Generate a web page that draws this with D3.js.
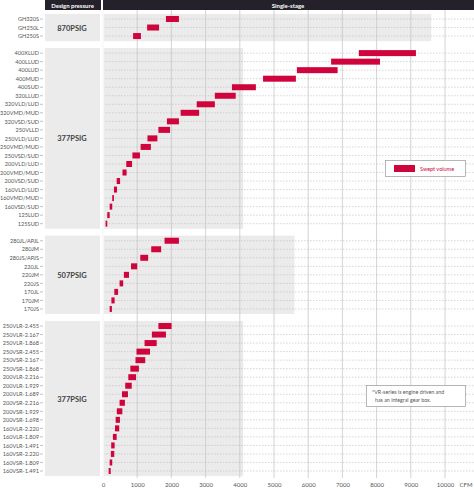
<!DOCTYPE html>
<html><head><meta charset="utf-8">
<script src="https://cdn.jsdelivr.net/npm/d3@7"></script>
<style>
body{margin:0;background:#fff;font-family:Lato,"Open Sans",sans-serif;}
</style></head><body>
<svg id="c" width="474" height="489"></svg>
<script>
// Groups: label, shaded extent (CFM)
const groups = [
  { name: '870PSIG', shade: 9600 },
  { name: '377PSIG', shade: 4100 },
  { name: '507PSIG', shade: 5600 },
  { name: '377PSIG', shade: 4100 },
];

const models = [
  ['GH320S','GH250L','GH250S'],
  ['400XLUD','400LLUD','400LUD','400MUD','400SUD','320LLUD','320VLD/LUD','320VMD/MUD','320VSD/SUD','250VLLD','250VLD/LUD','250VMD/MUD','250VSD/SUD','200VLD/LUD','200VMD/MUD','200VSD/SUD','160VLD/LUD','160VMD/MUD','160VSD/SUD','125LUD','125SUD'],
  ['280JL/APJL','280JM','280JS/APJS','220JL','220JM','220JS','170JL','170JM','170JS'],
  ['250VLR-2.455','250VLR-2.167','250VLR-1.868','250VSR-2.455','250VSR-2.167','250VSR-1.868','200VLR-2.216','200VLR-1.929','200VLR-1.689','200VSR-2.216','200VSR-1.929','200VSR-1.698','160VLR-2.220','160VLR-1.809','160VLR-1.491','160VSR-2.220','160VSR-1.809','160VSR-1.491'],
];

// swept volume range [min, max] CFM
const swept = [
  [[1840,2220],[1290,1640],[880,1110]],
  [[7480,9150],[6670,8100],[5670,6860],[4680,5640],[3770,4470],[3270,3880],[2740,3270],[2270,2810],[1870,2220],[1620,1960],[1300,1590],[1100,1400],[860,1080],[680,850],[570,690],[400,500],[320,410],[270,320],[195,270],[125,195],[75,125]],
  [[1800,2220],[1410,1700],[1090,1320],[820,1000],[610,760],[485,590],[330,440],[245,340],[195,260]],
  [[1620,2005],[1430,1840],[1215,1570],[980,1375],[950,1235],[800,1050],[740,965],[650,840],[555,730],[485,640],[405,565],[370,495],[350,475],[290,400],[240,340],[230,330],[195,270],[165,225]],
];

const xTicks = [0,1000,2000,3000,4000,5000,6000,7000,8000,9000,10000];

const RED = '#d0043c';
const svg = d3.select('#c');
const x = d3.scaleLinear().domain([0, 10000]).range([103, 445]);

// row index with 1 blank row between groups
const rows = [];
let idx = 0;
models.forEach((list, g) => {
  list.forEach((m, i) => rows.push({ g, m, idx: idx++, v: swept[g][i] }));
  idx++;
});
const totalIdx = rows[rows.length - 1].idx;
const y = d3.scaleLinear().domain([0, totalIdx]).range([19, 471]);
const pitch = y(1) - y(0);

// group panels
groups.forEach((gr, g) => {
  const r = rows.filter(d => d.g === g);
  const y0 = y(r[0].idx) - pitch * 0.6, y1 = y(r[r.length - 1].idx) + pitch * 0.6;
  svg.append('rect').attr('x', 45).attr('y', y0).attr('width', 55).attr('height', y1 - y0).attr('fill', '#ebebeb');
  svg.append('rect').attr('x', x(0)).attr('y', y0).attr('width', x(gr.shade) - x(0)).attr('height', y1 - y0).attr('fill', '#ebebeb');
  svg.append('text').attr('x', 72).attr('y', (y0 + y1) / 2 + 3).attr('text-anchor', 'middle')
    .attr('font-size', 7.5).attr('font-weight', 'bold').attr('fill', '#444').text(gr.name);
});

// vertical grid
svg.append('g').selectAll('line').data(xTicks).join('line')
  .attr('x1', d => x(d)).attr('x2', d => x(d)).attr('y1', 10).attr('y2', 478)
  .attr('stroke', '#c8c8c8').attr('stroke-width', 0.8);

// row dashed lines, tick marks and labels
svg.append('g').selectAll('line').data(rows).join('line')
  .attr('x1', x(0)).attr('x2', 474).attr('y1', d => y(d.idx)).attr('y2', d => y(d.idx))
  .attr('stroke', '#bbb').attr('stroke-width', 0.6).attr('stroke-dasharray', '1.5,1.5');
svg.append('g').selectAll('line').data(rows).join('line')
  .attr('x1', 40).attr('x2', 43).attr('y1', d => y(d.idx)).attr('y2', d => y(d.idx))
  .attr('stroke', '#999').attr('stroke-width', 0.6);
svg.append('g').selectAll('text').data(rows).join('text')
  .attr('x', 39).attr('y', d => y(d.idx) + 2.2).attr('text-anchor', 'end')
  .attr('font-size', 5.6).attr('fill', '#555').text(d => d.m);

// bars
svg.append('g').selectAll('rect').data(rows).join('rect')
  .attr('x', d => x(d.v[0])).attr('width', d => Math.max(1.5, x(d.v[1]) - x(d.v[0])))
  .attr('y', d => y(d.idx) - 3).attr('height', 6).attr('fill', RED);

// left divider
svg.append('line').attr('x1', x(0)).attr('x2', x(0)).attr('y1', 10).attr('y2', 478)
  .attr('stroke', '#fff').attr('stroke-width', 1.5);

// header
svg.append('rect').attr('x', 45).attr('y', 0).attr('width', 56).attr('height', 10).attr('fill', '#24212b');
svg.append('rect').attr('x', x(0)).attr('y', 0).attr('width', 474 - x(0)).attr('height', 10).attr('fill', '#24212b');
svg.append('text').attr('x', 72.5).attr('y', 7.5).attr('text-anchor', 'middle').attr('font-size', 6)
  .attr('font-weight', 'bold').attr('fill', '#fff').text('Design pressure');
svg.append('text').attr('x', 288).attr('y', 7.5).attr('text-anchor', 'middle').attr('font-size', 6)
  .attr('font-weight', 'bold').attr('fill', '#fff').text('Single-stage');

// x axis
const ax = svg.append('g').attr('transform', 'translate(0,478)')
  .call(d3.axisBottom(x).tickValues(xTicks).tickSize(0).tickPadding(5).tickFormat(d3.format('d')));
ax.select('.domain').remove();
ax.selectAll('text').attr('font-size', 6).attr('fill', '#555').attr('font-family', 'Lato, sans-serif');
svg.append('text').attr('x', 466).attr('y', 489 - 2.5).attr('text-anchor', 'middle')
  .attr('font-size', 6).attr('fill', '#555').text('CFM');

// legend
svg.append('rect').attr('x', 385.5).attr('y', 160.5).attr('width', 80).attr('height', 16)
  .attr('fill', '#fff').attr('stroke', '#999').attr('stroke-width', 0.7);
svg.append('rect').attr('x', 394).attr('y', 165).attr('width', 21).attr('height', 7).attr('fill', RED);
svg.append('text').attr('x', 420).attr('y', 171).attr('font-size', 5.5).attr('fill', RED).text('Swept volume');

// note
svg.append('rect').attr('x', 366.5).attr('y', 385.5).attr('width', 99).attr('height', 21)
  .attr('fill', '#fff').attr('stroke', '#999').attr('stroke-width', 0.7);
svg.append('text').attr('x', 372).attr('y', 394).attr('font-size', 5.3).attr('fill', '#555').text('*VR-series is engine driven and');
svg.append('text').attr('x', 375).attr('y', 401.5).attr('font-size', 5.3).attr('fill', '#555').text('has an integral gear box.');
</script></body></html>
